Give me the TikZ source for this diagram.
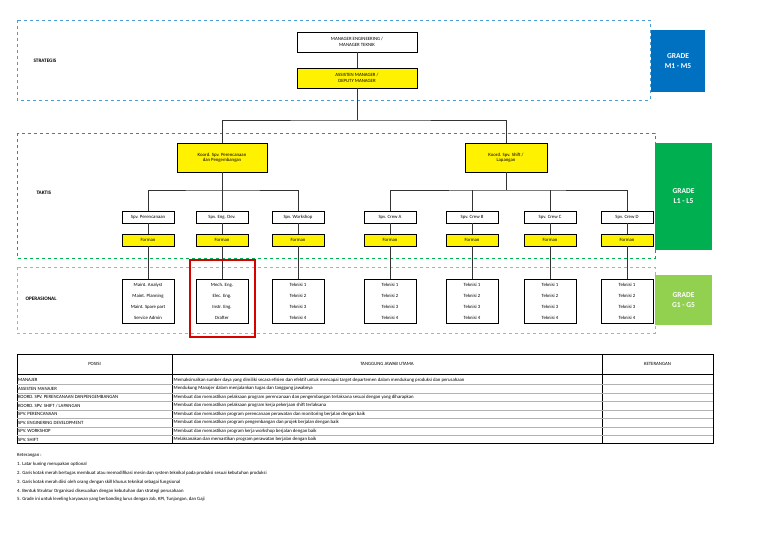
\documentclass[tikz,border=0pt]{standalone}
\usepackage{fontspec}
\setmainfont{Carlito}
\definecolor{gblue}{RGB}{0,112,192}
\definecolor{ggreen}{RGB}{0,176,80}
\definecolor{glight}{RGB}{146,208,80}
\begin{document}
\begin{tikzpicture}[x=1pt,y=-1pt,
 bx/.style={draw,line width=0.8pt,fill=white,minimum width=52pt,minimum height=12pt,inner sep=0pt,font=\fontsize{4.8}{5.5}\selectfont,align=center},
 yb/.style={bx,fill=yellow},
 tk/.style={draw,line width=0.8pt,fill=white,minimum width=52pt,minimum height=44pt,inner sep=0pt,font=\fontsize{4.8}{11}\selectfont,align=center},
 ln/.style={line width=0.8pt,draw=black!80},
 lvl/.style={font=\bfseries\fontsize{5.2}{6}\selectfont,anchor=west},
 grade/.style={text=white,font=\bfseries\fontsize{7.5}{10}\selectfont,align=center,inner sep=0pt},
 tx/.style={font=\fontsize{4.8}{5}\selectfont,anchor=west,inner sep=0pt}]
\useasboundingbox (0,0) rectangle (768,543);
% levels
\draw[dashed,draw=gblue!70,line width=0.6pt] (17,20) rectangle (650,100);
\draw[dashed,draw=ggreen,line width=0.6pt] (17,133) rectangle (655,258);
\draw[dashed,draw=glight,line width=0.6pt] (17,267) rectangle (655,333);
\fill[gblue] (651,30) rectangle (705,92);
\node[grade] at (678,61) {GRADE\\M1 - M5};
\fill[ggreen] (655,143) rectangle (712,250);
\node[grade] at (683.5,196) {GRADE\\L1 - L5};
\fill[glight] (655,275) rectangle (712,325);
\node[grade] at (683.5,300) {GRADE\\G1 - G5};
\node[lvl] at (30,61) {STRATEGIS};
\node[lvl] at (33,193) {TAKTIS};
\node[lvl] at (22,299) {OPERASIONAL};
% top
\node[bx,minimum width=120pt,minimum height=20pt] (mgr) at (357,42) {MANAGER ENGINEERING /\\MANAGER TEKNIK};
\node[yb,minimum width=120pt,minimum height=20pt] (asm) at (357,78) {ASSISTEN MANAGER /\\DEPUTY MANAGER};
\node[yb,minimum width=90pt,minimum height=29pt] (k1) at (222,157.5) {Koord. Spv. Perencanaan\\dan Pengembangan};
\node[yb,minimum width=82pt,minimum height=29pt] (k2) at (506,157.5) {Koord. Spv. Shift /\\Lapangan};
\draw[ln] (mgr) -- (asm);
\draw[ln] (asm.south) -- (357,120) coordinate (j);
\draw[ln] (k1.north) |- (j) -| (k2.north);
\foreach \n/\x/\s/\t in {a/148/Spv. Perencanaan/{Maint. Analyst\\Maint. Planning\\Maint. Spare part\\Service Admin},
 b/222/Spv. Eng. Dev./{Mech. Eng.\\Elec. Eng.\\Instr. Eng.\\Drafter},
 c/298/Spv. Workshop/{Teknisi 1\\Teknisi 2\\Teknisi 3\\Teknisi 4},
 d/390/Spv. Crew A/{Teknisi 1\\Teknisi 2\\Teknisi 3\\Teknisi 4},
 e/472/Spv. Crew B/{Teknisi 1\\Teknisi 2\\Teknisi 3\\Teknisi 4},
 f/550/Spv. Crew C/{Teknisi 1\\Teknisi 2\\Teknisi 3\\Teknisi 4},
 g/627/Spv. Crew D/{Teknisi 1\\Teknisi 2\\Teknisi 3\\Teknisi 4}}{
 \node[bx] (s\n) at (\x,217) {\s};
 \node[yb] (f\n) at (\x,240) {Forman};
 \node[tk] (t\n) at (\x,301) {\t};
 \draw[ln] (s\n) -- (f\n);
 \draw[ln] (f\n) -- (t\n);
}
\draw[ln] (k1.south) -- (222,190) coordinate (b1);
\draw[ln] (sa.north) |- (b1) -| (sc.north);
\draw[ln] (b1) -- (sb.north);
\draw[ln] (k2.south) -- (506,190) coordinate (b2);
\draw[ln] (sd.north) |- (b2) -| (sg.north);
\draw[ln] (se.north) -- (se.north |- b2);
\draw[ln] (sf.north) -- (sf.north |- b2);
\draw[red!85!black,line width=1.4pt] (190,260) rectangle (255,337);
% table
\draw[line width=0.8pt] (17,354) rectangle (713,443);
\draw[line width=0.6pt] (172,354) -- (172,443) (602,354) -- (602,443) (17,374) -- (713,374);
\foreach \y in {384.5,393,401.5,410,418.5,427,435.5} \draw[gray!60,line width=0.7pt] (17,\y) -- (713,\y);
\node[font=\fontsize{4.8}{5}\selectfont,inner sep=0pt] at (94.5,364) {POSISI};
\node[font=\fontsize{4.8}{5}\selectfont,inner sep=0pt] at (387,364) {TANGGUNG JAWAB UTAMA};
\node[font=\fontsize{4.8}{5}\selectfont,inner sep=0pt] at (657.5,364) {KETERANGAN};
\foreach \i/\p/\r in {0/MANAJER/Memaksimalkan sumber daya yang dimiliki secara efisien dan efektif untuk mencapai target departemen dalam mendukung produksi dan perusahaan,
 1/ASSISTEN MANAJER/Mendukung Manajer dalam menjalankan tugas dan tanggung jawabnya,
 2/KOORD. SPV. PERENCANAAN DANPENGEMBANGAN/Membuat dan memastikan pelaksaan program perencanaan dan pengembangan terlaksana sesuai dengan yang diharapkan,
 3/{KOORD. SPV. SHIFT / LAPANGAN}/Membuat dan memastikan pelaksaan program kerja pekerjaan shift terlaksana,
 4/SPV. PERENCANAAN/Membuat dan memastikan program perencanaan perawatan dan monitoring berjalan dengan baik,
 5/SPV. ENGINERING DEVELOPMENT/Membuat dan memastikan program pengembangan dan projek berjalan dengan baik,
 6/SPV. WORKSHOP/Membuat dan memastikan program kerja workshop berjalan dengan baik,
 7/SPV. SHIFT/Melaksanakan dan memastikan program perawatan berjalan dengan baik}{
 \node[tx] at (18,380+8.5*\i) {\p};
 \node[tx] at (173.5,380+8.5*\i) {\r};
}
\node[tx] at (17,455) {Keterangan :};
\node[tx] at (17,464) {1. Latar kuning merupakan optional};
\node[tx] at (17,473) {2. Garis kotak merah bertugas membuat atau memodifikasi mesin dan system teknikal pada produksi sesuai kebutuhan produksi};
\node[tx] at (17,482) {3. Garis kotak merah diisi oleh orang dengan skill khusus teknikal sebagai fungsional};
\node[tx] at (17,491) {4. Bentuk Struktur Organisasi disesuaikan dengan kebutuhan dan strategi perusahaan};
\node[tx] at (17,499.5) {5. Grade ini untuk leveling karyawan yang berbanding lurus dengan Job, KPI, Tunjangan, dan Gaji};
\end{tikzpicture}
\end{document}
